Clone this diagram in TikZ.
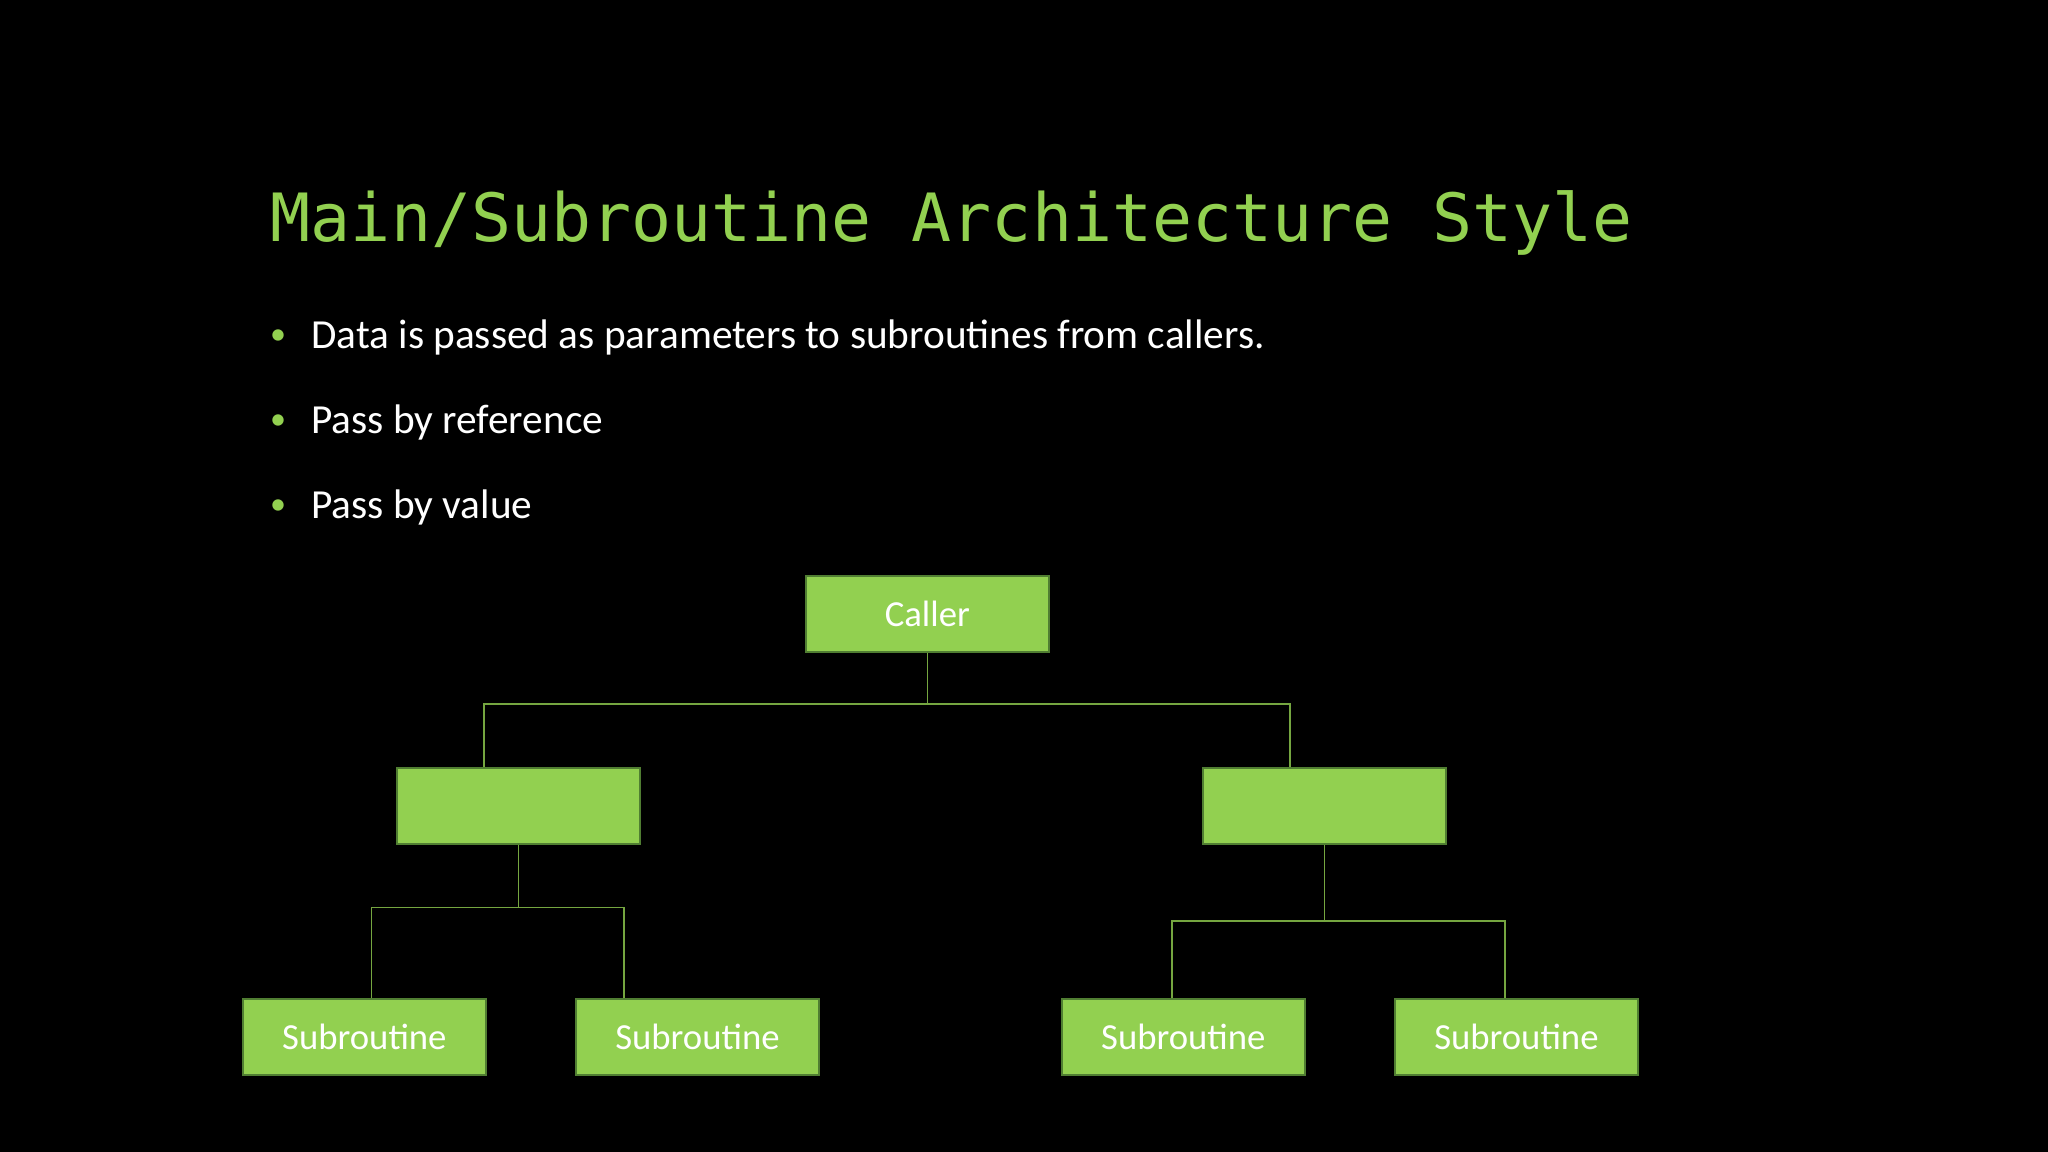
\documentclass[tikz,border=0pt]{standalone}
\usepackage{fontspec}
\setmainfont{Carlito}
\newfontfamily\monof{DejaVu Sans Mono}
\definecolor{lg}{HTML}{92D050}
\definecolor{dg}{HTML}{507E32}
\begin{document}
\begin{tikzpicture}[x=0.02cm,y=-0.02cm,
  box/.style={draw=dg,line width=0.8pt,fill=lg,minimum width=3.72cm,minimum height=1.16cm,inner sep=0pt,text=white,font=\fontsize{16}{18}\selectfont},
  conn/.style={draw=lg!80!black,line width=0.6pt},
  bul/.style={anchor=base west,text=white,font=\fontsize{18}{22}\selectfont,inner sep=0pt}]
\fill[black] (0,0) rectangle (1568,882);
\useasboundingbox (0,0) rectangle (1568,882);
\node[anchor=base west,inner sep=0pt,text=lg,font=\monof\fontsize{29}{34}\selectfont] (title) at (207,185) {Main/Subroutine Architecture Style};
\foreach \t/\yy [count=\i] in {{Data is passed as parameters to subroutines from callers.}/267,{Pass by reference}/332,{Pass by value}/397}{
  \node[bul] (b\i) at (238,\yy) {\t};
  \node[text=lg,inner sep=0pt,font=\fontsize{14}{14}\selectfont,anchor=base] (d\i) at (213,\yy-3) {•};
}
\node[box] (caller) at (710,470) {Caller};
\node[box] (ml) at (397,617) {};
\node[box] (mr) at (1014,617) {};
\node[box] (s1) at (279,794) {Subroutine};
\node[box] (s2) at (534,794) {Subroutine};
\node[box] (s3) at (906,794) {Subroutine};
\node[box] (s4) at (1161,794) {Subroutine};
\coordinate (j1) at (710,539);
\coordinate (j2) at (397,695);
\coordinate (j3) at (1014,705);
\draw[conn] (caller.south) -- (j1);
\draw[conn] (j1) -| ([xshift=-15]ml.north);
\draw[conn] (j1) -| ([xshift=-15]mr.north);
\draw[conn] (ml.south) -- (j2);
\draw[conn] (j2) -| ([xshift=3]s1.north);
\draw[conn] (j2) -| ([xshift=-32]s2.north);
\draw[conn] (mr.south) -- (j3);
\draw[conn] (j3) -| ([xshift=-5]s3.north);
\draw[conn] (j3) -| ([xshift=-5]s4.north);
\end{tikzpicture}
\end{document}
